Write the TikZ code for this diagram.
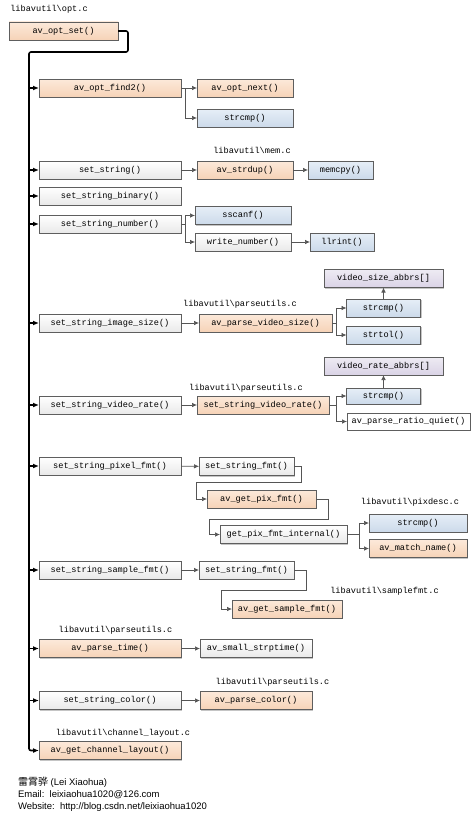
\documentclass[tikz,border=0pt]{standalone}
\usepackage{fontspec}
\setmainfont{Liberation Sans}
\setmonofont{Liberation Mono}
\newfontfamily\cjk{Noto Sans CJK SC}
\usepackage{tikz}
\usetikzlibrary{arrows.meta,shadows}
\definecolor{boxline}{HTML}{5E5E5E}
\definecolor{linkgray}{HTML}{555555}
\definecolor{orangetop}{HTML}{FCE9DA}
\definecolor{orangebot}{HTML}{F6D3B7}
\definecolor{bluetop}{HTML}{E6EEF7}
\definecolor{bluebot}{HTML}{CCDAEA}
\definecolor{graytop}{HTML}{FFFFFF}
\definecolor{graybot}{HTML}{E9E9E9}
\definecolor{purpletop}{HTML}{EEEBF3}
\definecolor{purplebot}{HTML}{DAD3E6}

\begin{document}
\begin{tikzpicture}[x=1pt,y=-1pt,
    every node/.style={font=\ttfamily\fontsize{8.6}{10}\selectfont, inner sep=0pt, outer sep=0pt},
    call/.style={draw=boxline, line width=0.6pt, minimum height=18pt,
        drop shadow={shadow xshift=1.3pt, shadow yshift=-1.3pt, fill=black!45, opacity=0.5}},
    callorange/.style={call, top color=orangetop, bottom color=orangebot},
    callblue/.style={call, top color=bluetop, bottom color=bluebot},
    callgray/.style={call, top color=graytop, bottom color=graybot},
    callpurple/.style={call, top color=purpletop, bottom color=purplebot},
    callwhite/.style={draw=boxline, line width=0.6pt, minimum height=17pt, fill=white},
    lib/.style={font=\ttfamily\fontsize{8.6}{10}\selectfont},
    link/.style={draw=linkgray, line width=0.7pt, -{Latex[length=5pt,width=4.5pt]}},
    trunkline/.style={line width=1.6pt, rounded corners=2pt, -{Latex[length=6pt,width=5pt]}},
    footer/.style={font=\rmfamily\fontsize{9.5}{11}\selectfont, anchor=west}]
\useasboundingbox (0,0) rectangle (474,816);

\node[lib] (optlib) at (49,9) {libavutil\textbackslash opt.c};
\node[callorange, minimum width=109pt] (optset) at (63.5,31) {av\_opt\_set()};

\node[callorange, minimum width=142pt] (find2) at (110,88) {av\_opt\_find2()};
\node[callorange, minimum width=96pt] (optnext) at (245,88) {av\_opt\_next()};
\node[callblue, minimum width=96pt] (strcmpa) at (245,118) {strcmp()};

\node[callgray, minimum width=142pt] (setstring) at (110,170) {set\_string()};
\node[lib] (memlib) at (252,150) {libavutil\textbackslash mem.c};
\node[callorange, minimum width=96pt] (strdup) at (245,170) {av\_strdup()};
\node[callblue, minimum width=65pt] (memcpy) at (340.5,170) {memcpy()};

\node[callgray, minimum width=142pt] (setbinary) at (110,196) {set\_string\_binary()};

\node[callgray, minimum width=142pt] (setnumber) at (110,224) {set\_string\_number()};
\node[callblue, minimum width=96pt] (sscanf) at (243,215.5) {sscanf()};
\node[callgray, minimum width=96pt] (writenum) at (243,242) {write\_number()};
\node[callblue, minimum width=64pt] (llrint) at (342,242) {llrint()};

\node[callgray, minimum width=142pt] (setimgsize) at (110,323) {set\_string\_image\_size()};
\node[lib] (sizelib) at (240,304) {libavutil\textbackslash parseutils.c};
\node[callorange, minimum width=133pt] (parsesize) at (265.5,323) {av\_parse\_video\_size()};
\node[callpurple, minimum width=119pt] (sizeabbrs) at (383.5,278.5) {video\_size\_abbrs[]};
\node[callblue, minimum width=74pt] (strcmpb) at (383.5,308) {strcmp()};
\node[callblue, minimum width=74pt] (strtol) at (383.5,335) {strtol()};

\node[callgray, minimum width=142pt] (setvidrate) at (110,405) {set\_string\_video\_rate()};
\node[lib] (ratelib) at (246,388) {libavutil\textbackslash parseutils.c};
\node[callorange, minimum width=132pt] (strvidrate) at (263,405) {set\_string\_video\_rate()};
\node[callpurple, minimum width=119pt] (rateabbrs) at (383.5,366) {video\_rate\_abbrs[]};
\node[callblue, minimum width=74pt, minimum height=16pt] (strcmpc) at (383.5,396) {strcmp()};
\node[callwhite, minimum width=123pt] (ratioquiet) at (408.5,421.5) {av\_parse\_ratio\_quiet()};

\node[callgray, minimum width=142pt] (setpixfmt) at (110,466) {set\_string\_pixel\_fmt()};
\node[callgray, minimum width=95pt] (strfmta) at (246.5,466.5) {set\_string\_fmt()};
\node[callorange, minimum width=109pt] (getpixfmt) at (261.5,499) {av\_get\_pix\_fmt()};
\node[callgray, minimum width=127pt] (pixinternal) at (283.5,534.5) {get\_pix\_fmt\_internal()};
\node[lib] (pixlib) at (410,502) {libavutil\textbackslash pixdesc.c};
\node[callblue, minimum width=98pt] (strcmpd) at (418,523) {strcmp()};
\node[callorange, minimum width=98pt] (matchname) at (418,548.5) {av\_match\_name()};

\node[callgray, minimum width=142pt] (setsamplefmt) at (110,570) {set\_string\_sample\_fmt()};
\node[callgray, minimum width=95pt] (strfmtb) at (246.5,570) {set\_string\_fmt()};
\node[lib] (samplelib) at (384.5,591) {libavutil\textbackslash samplefmt.c};
\node[callorange, minimum width=110pt] (getsamplefmt) at (287,609) {av\_get\_sample\_fmt()};

\node[lib] (timelib) at (115.5,630) {libavutil\textbackslash parseutils.c};
\node[callorange, minimum width=142pt] (parsetime) at (110,648.5) {av\_parse\_time()};
\node[callgray, minimum width=112pt] (strptime) at (256,648.5) {av\_small\_strptime()};

\node[callgray, minimum width=142pt] (setcolor) at (110,700.5) {set\_string\_color()};
\node[lib] (colorlib) at (272.5,682) {libavutil\textbackslash parseutils.c};
\node[callorange, minimum width=112pt] (parsecolor) at (256,700.5) {av\_parse\_color()};

\node[lib] (chlib) at (123,733) {libavutil\textbackslash channel\_layout.c};
\node[callorange, minimum width=142pt] (chlayout) at (110,750.5) {av\_get\_channel\_layout()};

\coordinate (trunk) at (29,52);
\draw[trunkline] (optset.east) -- ++(10,0) |- (trunk) |- (chlayout.west);
\foreach \n in {find2,setstring,setbinary,setnumber,setimgsize,setvidrate,setpixfmt,setsamplefmt,parsetime,setcolor}
    \draw[trunkline] (trunk |- \n.west) -- (\n.west);

\draw[link] (find2) -- (optnext);
\draw[link] (find2.east) -- ++(4,0) |- (strcmpa.west);
\draw[link] (setstring) -- (strdup);
\draw[link] (strdup) -- (memcpy);
\draw[link] (setnumber.east) -- ++(4,0) |- (sscanf.west);
\draw[link] (setnumber.east) -- ++(4,0) |- (writenum.west);
\draw[link] (writenum) -- (llrint);
\draw[link] (setimgsize) -- (parsesize);
\draw[link] (parsesize.east) -- ++(4,0) |- (strcmpb.west);
\draw[link] (parsesize.east) -- ++(4,0) |- (strtol.west);
\draw[link] (strcmpb.north) -- (strcmpb.north |- sizeabbrs.south);
\draw[link] (setvidrate) -- (strvidrate);
\draw[link] (strvidrate.east) -- ++(7,0) |- (strcmpc.west);
\draw[link] (strvidrate.east) -- ++(7,0) |- (ratioquiet.west);
\draw[link] (strcmpc.north) -- (strcmpc.north |- rateabbrs.south);
\draw[link] (setpixfmt) -- (strfmta);
\draw[link] (strfmta.east) -- ++(7,0) |- ++(-105,16) |- (getpixfmt.west);
\draw[link] (getpixfmt.east) -- ++(12,0) |- ++(-119,20) |- (pixinternal.west);
\draw[link] (pixinternal.east) -- ++(12,0) |- (strcmpd.west);
\draw[link] (pixinternal.east) -- ++(12,0) |- (matchname.west);
\draw[link] (setsamplefmt) -- (strfmtb);
\draw[link] (strfmtb.east) -- ++(12,0) |- ++(-85,20) |- (getsamplefmt.west);
\draw[link] (parsetime) -- (strptime);
\draw[link] (setcolor) -- (parsecolor);

\node[footer] (author) at (18,782) {{\cjk\fontsize{10}{11}\selectfont 雷霄骅} (Lei Xiaohua)};
\node[footer] (email) at (18,794.5) {Email:\ \ leixiaohua1020@126.com};
\node[footer] (website) at (18,807) {Website:\ \ http://blog.csdn.net/leixiaohua1020};
\end{tikzpicture}
\end{document}
